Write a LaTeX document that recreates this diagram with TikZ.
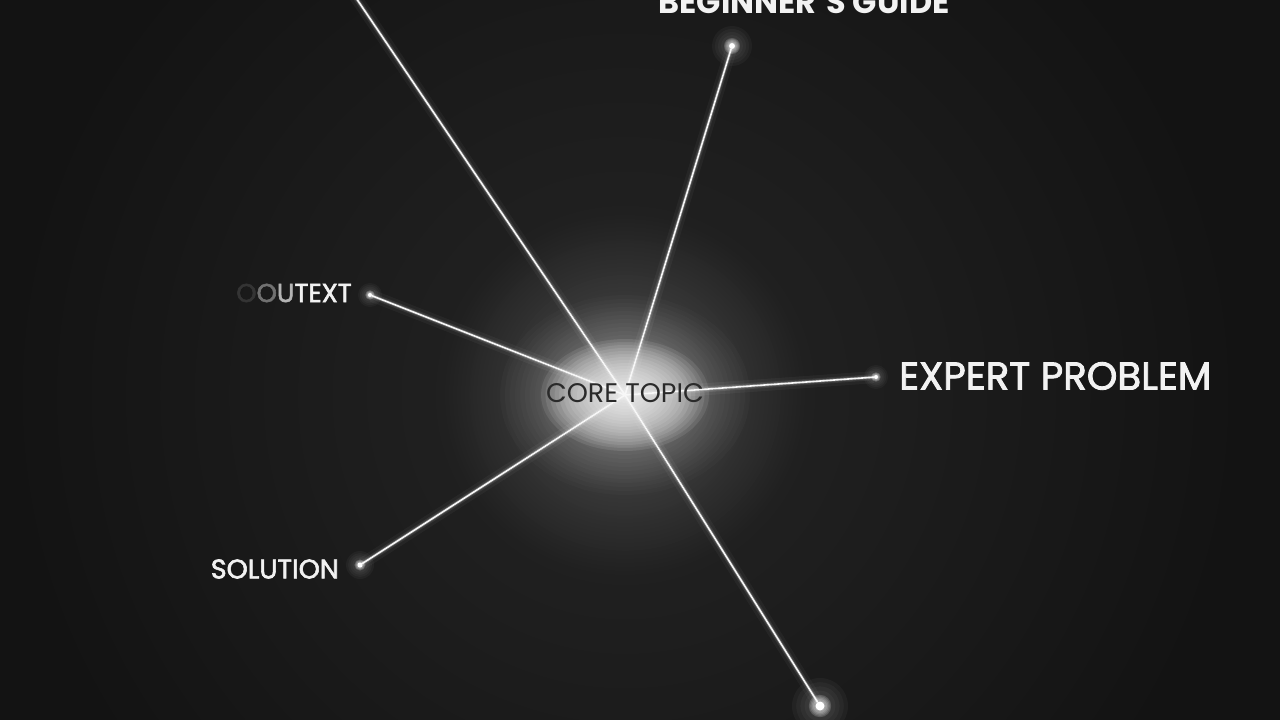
\documentclass[tikz,border=0pt]{standalone}
\usepackage{fontspec}
\setmainfont{Poppins}
\newfontfamily\medfont{Poppins}[FakeBold=2.2]
\definecolor{bg}{HTML}{131313}
\definecolor{halo}{HTML}{252525}
\definecolor{coretxt}{HTML}{2a2a2a}
\definecolor{lbl}{HTML}{F2F2F2}
\tikzset{
  ray/.style={draw=white!94!gray, line width=1.6bp, line cap=round,
    preaction={draw=white, opacity=0.04, line width=12bp},
    preaction={draw=white, opacity=0.08, line width=6bp},
    preaction={draw=white, opacity=0.22, line width=3.2bp}},
  enddot/.style={circle, fill=white, inner sep=0pt, minimum size=6bp},
  lbltext/.style={text=lbl, inner sep=0pt},
}
\begin{document}
\begin{tikzpicture}[x=1bp,y=-1bp]
\useasboundingbox (0,0) rectangle (1280,720);
\clip (0,0) rectangle (1280,720);
\fill[bg] (0,0) rectangle (1280,720);
% soft halo behind everything
\shade[inner color=halo, outer color=bg] (625,395) circle (620);
% named points
\coordinate (c) at (625,395);
\coordinate (off) at (352,-8);
\node[enddot] (beg) at (732,46) {};
\node[enddot, minimum size=4bp] (out) at (370,295) {};
\node[enddot, minimum size=4bp] (exp) at (876,377) {};
\node[enddot, minimum size=5bp] (sol) at (360,565) {};
\node[enddot, minimum size=9bp] (bot) at (820,706) {};
% rays
\draw[ray] (c) -- (off);
\draw[ray] (c) -- (beg);
\draw[ray] (c) -- (out);
\draw[ray] (c) -- (exp);
\draw[ray] (c) -- (sol);
\draw[ray] (c) -- (bot);
% glows at the ends
\foreach \p/\s in {beg/1, out/0.6, exp/0.6, sol/0.7, bot/1.4}{
  \foreach \r in {20,17,...,5}
    \fill[white, opacity=0.035] (\p) circle ({\r*\s});
  \foreach \r in {8,7,...,4}
    \fill[white, opacity=0.15] (\p) circle ({\r*\s});
}
% central glow
\foreach \r in {180,176,...,20}
  \fill[white, opacity=0.007] (c) circle (\r);
\foreach \r in {100,96,...,40}
  \fill[white, opacity=0.02] (c) ellipse ({\r*1.25} and \r);
\foreach \r in {56,53,...,3}
  \fill[white, opacity=0.09] (c) ellipse ({\r*1.5} and \r);
% labels
\node[text=coretxt, inner sep=0pt, font=\fontsize{27}{30}\selectfont] (core) at (625,393) {CORE TOPIC};
\node[lbltext, anchor=base, font=\fontsize{32}{36}\selectfont\bfseries] (begl) at (804,14) {BEGINNER'S GUIDE};
\node[lbltext, anchor=west, font=\fontsize{39}{42}\selectfont\medfont] (expl) at (899,376) {EXPERT PROBLEM};
\node[lbltext, anchor=east, font=\fontsize{27}{30}\selectfont\medfont] (soll) at (339,569) {SOLUTION};
\node[inner sep=0pt, anchor=east, font=\fontsize{26}{30}\selectfont\medfont] (outl) at (352,293)
  {\textcolor{white!14!bg}{O}\textcolor{white!40!bg}{O}\textcolor{white!68!bg}{U}\textcolor{lbl}{TEXT}};
\end{tikzpicture}
\end{document}
